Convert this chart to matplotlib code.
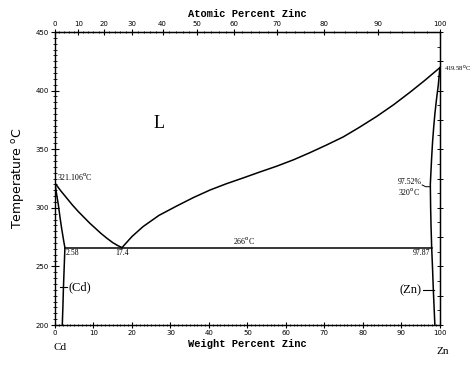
import numpy as np
import matplotlib
matplotlib.use('Agg')
import matplotlib.pyplot as plt
from matplotlib.ticker import MultipleLocator, FixedLocator

# ---- data ----
cd_liq_wt = [0, 1.5, 3, 4.5, 6, 7.5, 9, 10.5, 12, 13.5, 15, 16.3, 17.4]
cd_liq_T = [321.1, 314.5, 308.5, 302.5, 297, 292, 287, 282.5, 278, 274, 270.3, 267.8, 266]

zn_liq_wt = [17.4, 20, 22.9, 27, 31.6, 36, 40.3, 44.5, 48.9, 53, 57.6, 62, 66.2, 70.5,
             74.9, 79, 83.6, 88, 92.2, 96, 100]
zn_liq_T = [266, 275.5, 284, 293.5, 301.5, 308.8, 315.2, 320.5, 325.5, 330.3, 335.5, 341,
            347, 353.5, 360.5, 368.5, 378, 388, 398.5, 408.5, 419.58]

cd_sol_wt = [0, 0.4, 0.9, 1.3, 1.7, 2.0, 2.3, 2.58, 2.4, 2.2, 2.05, 1.9]
cd_sol_T = [321.1, 312, 302, 292, 283, 277, 271, 266, 250, 232, 215, 200]

zn_sol_wt = [100, 99.6, 99.1, 98.7, 98.4, 98.1, 97.85, 97.52, 97.6, 97.7, 97.87, 98.1, 98.3, 98.5, 98.7]
zn_sol_T = [419.58, 405, 392, 380, 369, 356, 342, 320, 300, 285, 266, 248, 230, 215, 200]

eut_wt = [2.58, 97.87]
eut_T = [266, 266]

wt_ticks = list(range(0, 101, 10))
at_ticks = list(range(0, 101, 10))
T_ticks = list(range(200, 451, 50))

M_CD, M_ZN = 112.41, 65.38


def wt_to_at(w):
    w = np.clip(np.asarray(w, dtype=float), 0, 100)
    nz = w / M_ZN
    nc = (100 - w) / M_CD
    return 100 * nz / (nz + nc)


def at_to_wt(a):
    a = np.clip(np.asarray(a, dtype=float), 0, 100)
    mz = a * M_ZN
    mc = (100 - a) * M_CD
    return 100 * mz / (mz + mc)


fig = plt.figure(figsize=(4.74, 3.70), dpi=100)
ax = fig.add_axes([0.116, 0.1216, 0.812, 0.7919])
ax.set_xlim(0, 100)
ax.set_ylim(200, 450)

lw = 1.1
ax.plot(cd_liq_wt, cd_liq_T, color='black', lw=lw)
ax.plot(zn_liq_wt, zn_liq_T, color='black', lw=lw)
ax.plot(cd_sol_wt, cd_sol_T, color='black', lw=lw)
ax.plot(zn_sol_wt, zn_sol_T, color='black', lw=lw)
ax.plot(eut_wt, eut_T, color='black', lw=lw)

for s in ax.spines.values():
    s.set_linewidth(1.0)

# bottom axis
ax.xaxis.set_major_locator(FixedLocator(wt_ticks))
ax.xaxis.set_minor_locator(MultipleLocator(1))
ax.tick_params(axis='x', which='major', direction='inout', length=4, width=0.8,
               labelsize=5, pad=1.5)
ax.tick_params(axis='x', which='minor', direction='inout', length=2, width=0.6)

# left axis
ax.yaxis.set_major_locator(FixedLocator(T_ticks))
ax.yaxis.set_minor_locator(MultipleLocator(5))
ax.tick_params(axis='y', which='major', direction='inout', length=6, width=0.8,
               labelsize=5, pad=1.5)
ax.tick_params(axis='y', which='minor', direction='inout', length=3, width=0.6)

# top axis (atomic percent)
top = ax.secondary_xaxis('top', functions=(wt_to_at, at_to_wt))
top.xaxis.set_major_locator(FixedLocator(at_ticks))
top.xaxis.set_minor_locator(FixedLocator(list(range(0, 101, 2))))
top.tick_params(axis='x', which='major', direction='inout', length=4, width=0.8,
                labelsize=5, pad=1.5)
top.tick_params(axis='x', which='minor', direction='inout', length=2, width=0.6)
top.set_xlabel('Atomic Percent Zinc', fontsize=7.5, family='Liberation Mono',
               fontweight='bold', labelpad=3)

# right axis ticks
right = ax.secondary_yaxis('right')
right.yaxis.set_major_locator(MultipleLocator(25))
right.yaxis.set_minor_locator(MultipleLocator(12.5))
right.tick_params(axis='y', which='major', direction='inout', length=4, width=0.7,
                  labelright=False)
right.tick_params(axis='y', which='minor', direction='in', length=2, width=0.6)

ax.set_xlabel('Weight Percent Zinc', fontsize=7.5, family='Liberation Mono',
              fontweight='bold', labelpad=2)
ax.set_ylabel('Temperature $^{\\rm o}$C', fontsize=9, family='DejaVu Sans', labelpad=6)

# labels in plot
small = dict(fontsize=5.6, family='Liberation Serif', color='black')
ax.text(27, 372, 'L', fontsize=13, family='Liberation Serif', ha='center', va='center')
ax.text(0.5, 322, '321.106$^{\\rm o}$C', ha='left', va='bottom', **small)
ax.text(101.2, 419.58, '419.58$^{\\rm o}$C', ha='left', va='center', clip_on=False,
        fontsize=4.8, family='Liberation Serif', color='black')
ax.text(49, 267.5, '266$^{\\rm o}$C', ha='center', va='bottom', **small)
ax.text(2.8, 264.5, '2.58', ha='left', va='top', **small)
ax.text(17.4, 264.5, '17.4', ha='center', va='top', **small)
ax.text(97.5, 264.5, '97.87', ha='right', va='top', **small)
ax.text(89.0, 322, '97.52%', ha='left', va='center', **small)
ax.text(89.0, 313.5, '320$^{\\rm o}$C', ha='left', va='center', **small)
ax.plot([95.4, 96.3, 97.5], [319.5, 318.0, 318.0], color='black', lw=0.7)

ax.plot([1.2, 3.0], [232.5, 232.5], color='black', lw=0.8)
ax.text(3.6, 232.5, '(Cd)', fontsize=9, family='Liberation Serif', ha='left', va='center')
ax.plot([95.6, 98.4], [230, 230], color='black', lw=0.8)
ax.text(95.2, 230, '(Zn)', fontsize=9, family='Liberation Serif', ha='right', va='center')

fig.text(54 / 474, 1 - 347 / 370, 'Cd', fontsize=8, family='Liberation Serif',
         ha='left', va='center')
fig.text(436 / 474, 1 - 352 / 370, 'Zn', fontsize=8, family='Liberation Serif',
         ha='left', va='center')

fig.savefig('out.png', dpi=100)
